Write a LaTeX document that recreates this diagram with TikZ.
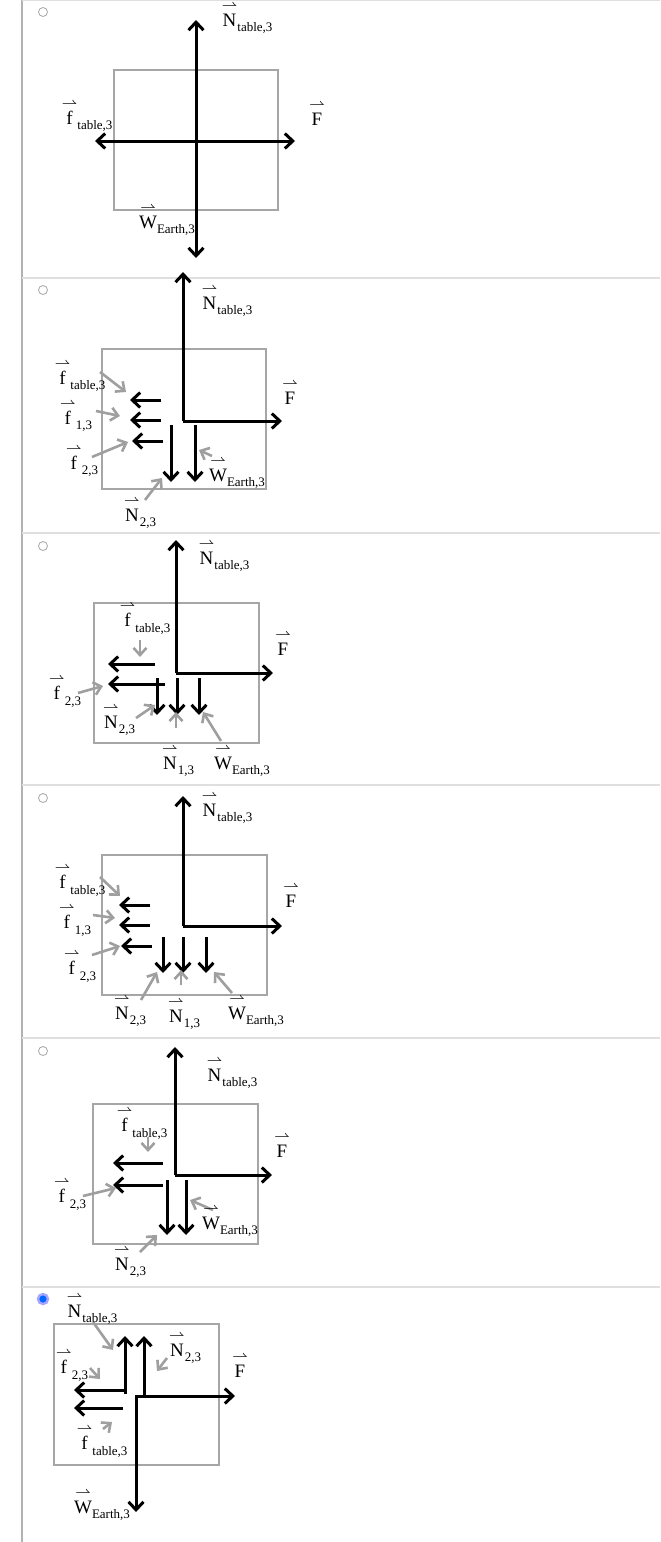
\documentclass[tikz,border=0pt]{standalone}
\usepackage{fontspec}
\setmainfont{Liberation Serif}
\usetikzlibrary{arrows.meta}
\newcommand\vl[2]{$\stackrel{\rightharpoonup}{\mbox{#1}}$\raisebox{-.6ex}{\fontsize{6.5}{6.5}\selectfont #2}}
\begin{document}
\begin{tikzpicture}[x=0.5pt,y=-0.5pt,
  frc/.style={line width=1.5pt,-{Straight Barb[length=4pt,width=7.5pt,line width=1.5pt]}},
  gr/.style={draw=gray!75,line width=1.3pt,-{Straight Barb[length=3.6pt,width=6.5pt,line width=1.3pt]}},
  bx/.style={draw=gray!70,line width=0.6pt},
  lb/.style={font=\fontsize{9.5}{10}\selectfont,inner sep=0pt},
  sep/.style={draw=gray!25,line width=0.6pt},
  radio/.style={circle,draw=gray!70,line width=0.4pt,minimum size=4.5pt,inner sep=0pt}]
\useasboundingbox (0,0) rectangle (660,1542);
\draw[gray!60,line width=0.6pt] (22,0) -- (22,1542);
\foreach \y in {0,278,533,785,1038,1287} \draw[sep] (22,\y) -- (660,\y);
\foreach \y/\n in {12/r1,290/r2,546/r3,798/r4,1051/r5} \node[radio] (\n) at (43,\y) {};
\node[radio,draw=blue!35,line width=1.2pt,fill=blue!60!cyan,minimum size=5pt] (r6) at (43,1299) {};
% Panel 1
\draw[bx] (114,70) rectangle (278,210);
\draw[frc] (196,141) -- (196,20);
\draw[frc] (196,141) -- (196,258);
\draw[frc] (196,141) -- (95,141);
\draw[frc] (196,141) -- (295,141);
\node[lb] (a1) at (247,18) {\vl{N}{table,3}};
\node[lb] (a2) at (87,116) {\vl{f}{table,3}};
\node[lb] (a3) at (317,116) {\vl{F}{}};
\node[lb] (a4) at (167,220) {\vl{W}{Earth,3}};
% Panel 2
\draw[bx] (102,349) rectangle (266,489);
\draw[frc] (183,421) -- (183,272);
\draw[frc] (183,421) -- (282,421);
\draw[frc] (161,400) -- (130,400);
\draw[frc] (161,420) -- (130,420);
\draw[frc] (163,441) -- (132,441);
\draw[frc] (171,425) -- (171,482);
\draw[frc] (195,425) -- (195,482);
\draw[gr] (100,372) -- (126,392);
\draw[gr] (96,411) -- (120,416);
\draw[gr] (92,457) -- (128,442);
\draw[gr] (212,456) -- (199,450);
\draw[gr] (145,500) -- (162,478);
\node[lb] (b1) at (227,301) {\vl{N}{table,3}};
\node[lb] (b2) at (80,376) {\vl{f}{table,3}};
\node[lb] (b3) at (76,416) {\vl{f}{1,3}};
\node[lb] (b4) at (82,461) {\vl{f}{2,3}};
\node[lb] (b5) at (237,473) {\vl{W}{Earth,3}};
\node[lb] (b6) at (140,513) {\vl{N}{2,3}};
\node[lb] (b7) at (290,395) {\vl{F}{}};
% Panel 3
\draw[bx] (94,603) rectangle (259,743);
\draw[frc] (176,673) -- (176,540);
\draw[frc] (176,673) -- (273,673);
\draw[frc] (155,664) -- (108,664);
\draw[frc] (165,684) -- (108,684);
\draw[frc] (157,678) -- (157,715);
\draw[frc] (177,678) -- (177,715);
\draw[frc] (199,678) -- (199,715);
\draw[gr] (140,640) -- (140,657);
\draw[gr] (78,693) -- (103,686);
\draw[gr] (136,718) -- (155,705);
\draw[gr] (176,728) -- (176,712);
\draw[gr] (221,741) -- (203,712);
\node[lb] (c1) at (224,556) {\vl{N}{table,3}};
\node[lb] (c2) at (145,618) {\vl{f}{table,3}};
\node[lb] (c3) at (283,646) {\vl{F}{}};
\node[lb] (c4) at (65,691) {\vl{f}{2,3}};
\node[lb] (c5) at (119,720) {\vl{N}{2,3}};
\node[lb] (c6) at (178,761) {\vl{N}{1,3}};
\node[lb] (c7) at (242,761) {\vl{W}{Earth,3}};
% Panel 4
\draw[bx] (102,855) rectangle (267,995);
\draw[frc] (183,926) -- (183,796);
\draw[frc] (183,926) -- (282,926);
\draw[frc] (150,905) -- (119,905);
\draw[frc] (150,925) -- (119,925);
\draw[frc] (152,946) -- (121,946);
\draw[frc] (163,937) -- (163,973);
\draw[frc] (183,937) -- (183,973);
\draw[frc] (206,937) -- (206,973);
\draw[gr] (100,877) -- (120,896);
\draw[gr] (93,915) -- (115,918);
\draw[gr] (92,955) -- (120,946);
\draw[gr] (141,1000) -- (157,972);
\draw[gr] (181,985) -- (181,970);
\draw[gr] (232,993) -- (214,972);
\node[lb] (d1) at (227,808) {\vl{N}{table,3}};
\node[lb] (d2) at (80,880) {\vl{f}{table,3}};
\node[lb] (d3) at (75,920) {\vl{f}{1,3}};
\node[lb] (d4) at (80,966) {\vl{f}{2,3}};
\node[lb] (d5) at (130,1011) {\vl{N}{2,3}};
\node[lb] (d6) at (184,1014) {\vl{N}{1,3}};
\node[lb] (d7) at (256,1011) {\vl{W}{Earth,3}};
\node[lb] (d8) at (291,898) {\vl{F}{}};
% Panel 5
\draw[bx] (93,1104) rectangle (258,1244);
\draw[frc] (175,1175) -- (175,1047);
\draw[frc] (175,1175) -- (272,1175);
\draw[frc] (163,1163) -- (113,1163);
\draw[frc] (163,1185) -- (113,1185);
\draw[frc] (167,1180) -- (167,1235);
\draw[frc] (186,1180) -- (186,1235);
\draw[gr] (148,1137) -- (148,1152);
\draw[gr] (83,1196) -- (116,1188);
\draw[gr] (213,1210) -- (190,1200);
\draw[gr] (140,1252) -- (157,1235);
\node[lb] (e1) at (232,1073) {\vl{N}{table,3}};
\node[lb] (e2) at (142,1123) {\vl{f}{table,3}};
\node[lb] (e3) at (282,1148) {\vl{F}{}};
\node[lb] (e4) at (70,1194) {\vl{f}{2,3}};
\node[lb] (e5) at (230,1221) {\vl{W}{Earth,3}};
\node[lb] (e6) at (130,1262) {\vl{N}{2,3}};
% Panel 6
\draw[bx] (54,1324) rectangle (219,1465);
\draw[frc] (125,1394) -- (125,1336);
\draw[frc] (144,1396) -- (144,1336);
\draw[frc] (136,1396) -- (235,1396);
\draw[frc] (136,1395) -- (136,1512);
\draw[frc] (125,1390) -- (74,1390);
\draw[frc] (123,1408) -- (74,1408);
\draw[gr] (93,1322) -- (113,1350);
\draw[gr] (90,1368) -- (100,1379);
\draw[gr] (167,1358) -- (157,1371);
\draw[gr] (103,1429) -- (112,1422);
\node[lb] (g1) at (92,1309) {\vl{N}{table,3}};
\node[lb] (g2) at (72,1365) {\vl{f}{2,3}};
\node[lb] (g3) at (185,1348) {\vl{N}{2,3}};
\node[lb] (g4) at (240,1368) {\vl{F}{}};
\node[lb] (g5) at (102,1441) {\vl{f}{table,3}};
\node[lb] (g6) at (102,1505) {\vl{W}{Earth,3}};
\end{tikzpicture}
\end{document}
